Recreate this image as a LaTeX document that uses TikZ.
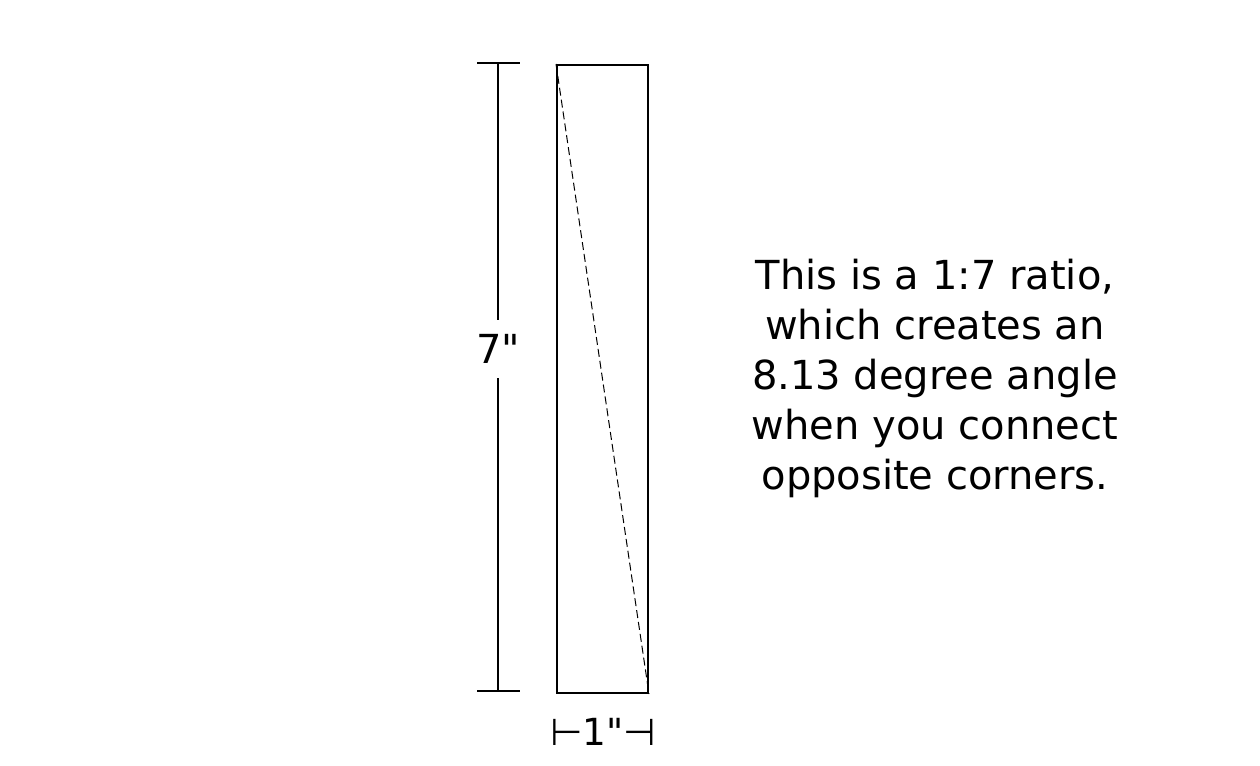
\documentclass[tikz,border=0pt]{standalone}
\usepackage{fontspec}
\setmainfont{DejaVu Sans}[Ligatures=TeXOff]
\begin{document}
\begin{tikzpicture}[x=0.75pt,y=-0.75pt,line width=1.5pt]
\useasboundingbox (0,0) rectangle (1260,765);
\node[draw,minimum width=91*0.75pt,minimum height=628*0.75pt,inner sep=0pt] (board) at (602.5,379) {};
\draw[line width=0.75pt,dash pattern=on 6pt off 3pt] (board.north west) -- (board.south east);
\coordinate (top) at (498,63);
\coordinate (bot) at (498,691);
\draw (477,63) -- (520,63);
\draw (477,691) -- (520,691);
\node[font=\fontsize{30}{36}\selectfont,minimum height=42pt,inner sep=0pt] (seven) at (498,349) {7"};
\draw (top) -- (seven.north);
\draw (seven.south) -- (bot);
\node[font=\fontsize{28}{34}\selectfont,inner sep=0pt] (one) at (603,732) {⊢1"⊣};
\node[font=\fontsize{30}{37.5}\selectfont,align=center,inner sep=0pt] (note) at (935,378) {This is a 1:7 ratio,\\which creates an\\8.13 degree angle\\when you connect\\opposite corners.};
\end{tikzpicture}
\end{document}
